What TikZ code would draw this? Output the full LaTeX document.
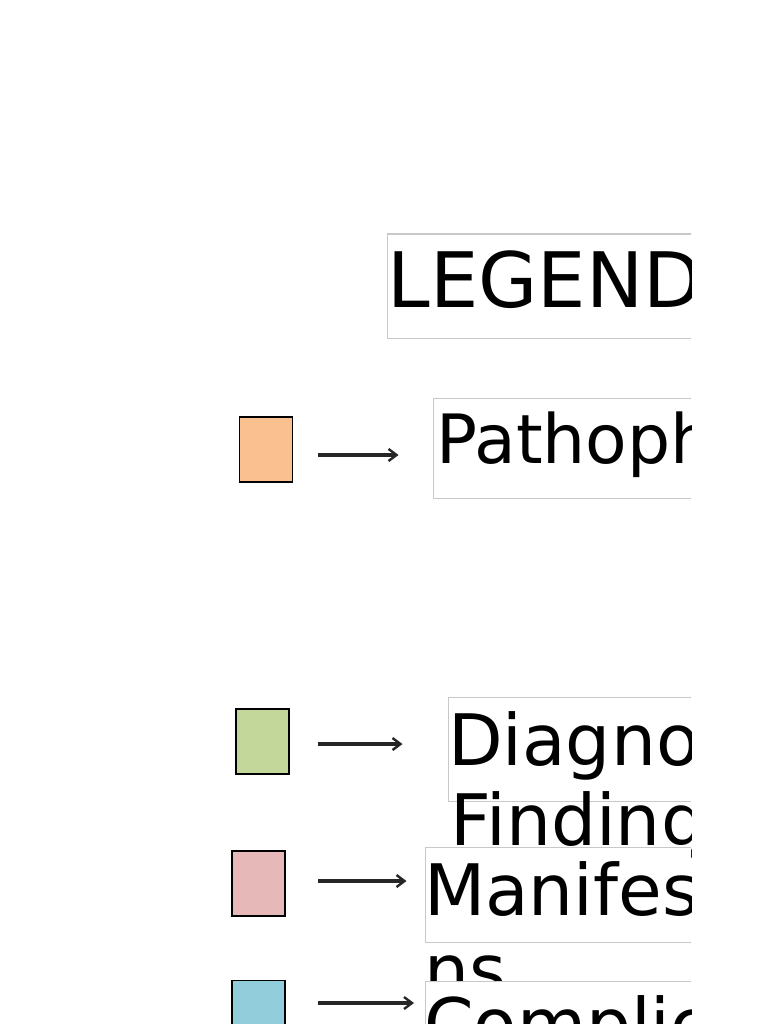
\documentclass[tikz,border=0pt]{standalone}
\usepackage{fontspec}
\setmainfont{DejaVu Sans}
\usetikzlibrary{arrows.meta}
\definecolor{boxgray}{HTML}{C8C8C8}
\definecolor{sworange}{HTML}{FAC090}
\definecolor{swgreen}{HTML}{C4D79B}
\definecolor{swpink}{HTML}{E6B8B7}
\definecolor{swblue}{HTML}{92CDDC}
\begin{document}
\begin{tikzpicture}[x=1pt,y=-1pt,
  lbox/.style={draw=boxgray, line width=1pt, fill=white, anchor=north west, inner sep=0pt, outer sep=0pt},
  swatch/.style={draw=black, line width=1.8pt, anchor=north west, inner sep=0pt, outer sep=0pt, minimum width=53pt, minimum height=65pt},
  lbl/.style={anchor=base west, inner sep=0pt, outer sep=0pt, font=\fontsize{71}{80}\selectfont},
  ttl/.style={anchor=base west, inner sep=0pt, outer sep=0pt, font=\fontsize{76.5}{90}\selectfont},
  arr/.style={line width=3.2pt, draw=black!85, -{Straight Barb[length=8pt,width=12pt,line width=2.4pt]}}]
\useasboundingbox (0,0) rectangle (768,1024);
\begin{scope}
\clip (0,0) rectangle (691,1024);
% title
\node[lbox, minimum width=320pt, minimum height=104pt] (legbox) at (387,234) {};
\node[ttl] (legtxt) at (387.5,307.5) {LEGEND};
% pathophysiology
\node[lbox, minimum width=280pt, minimum height=100pt] (pbox) at (433,398) {};
\node[lbl, font=\fontsize{68}{80}\selectfont] (ptxt) at (436.3,463) {Pathophysiology};
% diagnostic findings
\node[lbox, minimum width=260pt, minimum height=104pt] (dbox) at (448.5,697) {};
\node[lbl] (dtxt1) at (448,765) {Diagnostic};
\node[lbl] (dtxt2) at (450.7,845) {Findings};
% manifestations
\node[lbox, minimum width=280pt, minimum height=95pt] (mbox) at (425.5,847) {};
\node[lbl] (mtxt1) at (424,915) {Manifestatio};
\node[lbl] (mtxt2) at (424.5,995) {ns};
% complications
\node[lbox, minimum width=280pt, minimum height=100pt] (cbox) at (425.5,981) {};
\node[lbl] (ctxt) at (424,1049) {Complications};
\end{scope}
% swatches
\node[swatch, fill=sworange] (s1) at (239.5,417) {};
\node[swatch, fill=swgreen] (s2) at (236,709) {};
\node[swatch, fill=swpink] (s3) at (232,851) {};
\node[swatch, fill=swblue] (s4) at (232,980.5) {};
% arrows
\coordinate (a1s) at (318,455);
\coordinate (a1e) at (398.5,455);
\coordinate (a2s) at (318,744);
\coordinate (a2e) at (402.5,744);
\coordinate (a3s) at (318,881);
\coordinate (a3e) at (406.5,881);
\coordinate (a4s) at (318,1003);
\coordinate (a4e) at (414,1003);
\draw[arr] (a1s) -- (a1e);
\draw[arr] (a2s) -- (a2e);
\draw[arr] (a3s) -- (a3e);
\draw[arr] (a4s) -- (a4e);
\end{tikzpicture}
\end{document}
